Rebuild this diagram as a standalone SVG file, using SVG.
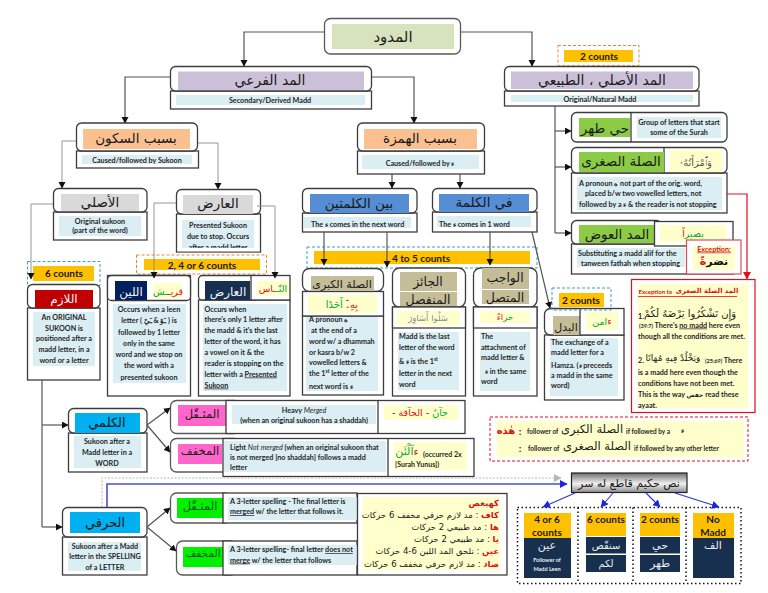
<svg xmlns="http://www.w3.org/2000/svg" width="768" height="593" viewBox="0 0 768 593">
<style>
.b{fill:#fff;stroke:#3c3c3c;stroke-width:1.3}
.g{fill:#fff;stroke:#5a5a5a;stroke-width:1.3}
.root{fill:#d7e3bc}.pur{fill:#ccc0d9}.lb{fill:#daeef3}.org{fill:#fac08f}.gry{fill:#d9d9d9}.blu{fill:#558ed5}.gold{fill:#ffc000}.yel{fill:#ffffcc}.tan{fill:#c4bd97}.grn{fill:#8ccb45}.cy{fill:#00b0f0}.pk{fill:#ff66cc}.lime{fill:#00f000}.nv{fill:#17304f}
.ar{font-family:"DejaVu Sans",sans-serif;fill:#1a1a1a;text-anchor:middle;direction:rtl}
.en{font-family:"Lato","Open Sans",sans-serif;font-weight:700;font-size:7.200px;fill:#262626;text-anchor:middle}
.el{font-family:"Lato","Open Sans",sans-serif;font-weight:700;font-size:7.200px;fill:#262626;text-anchor:start}
.ct{font-family:"Lato","Open Sans",sans-serif;font-weight:700;font-size:10px;fill:#1a1a1a;text-anchor:middle}
.dash{fill:none;stroke-width:1;stroke-dasharray:3 2}
.c{fill:none;stroke:#555;stroke-width:1.2}
.t{fill:none;stroke:#8a8a8a;stroke-width:.9}
.bl{fill:none;stroke:#2a35d8;stroke-width:1.1}
</style>
<defs>
<marker id="a" markerWidth="8" markerHeight="8" refX="6" refY="3.500" orient="auto" markerUnits="userSpaceOnUse"><path d="M0,0L6.500,3.500L0,7z" fill="#111"/></marker>
<marker id="ar" markerWidth="9" markerHeight="9" refX="7" refY="4" orient="auto" markerUnits="userSpaceOnUse"><path d="M0,0L7.500,4L0,8z" fill="#e0101a"/></marker>
<marker id="ab" markerWidth="9" markerHeight="9" refX="7" refY="4" orient="auto" markerUnits="userSpaceOnUse"><path d="M0,0L7.500,4L0,8z" fill="#1a26e0"/></marker>
<marker id="ag" markerWidth="9" markerHeight="9" refX="7" refY="4" orient="auto" markerUnits="userSpaceOnUse"><path d="M0,0L7.500,4L0,8z" fill="#b8b8b8"/></marker>
<linearGradient id="gr" x1="0" y1="0" x2="0" y2="1"><stop offset="0" stop-color="#6e6e6e"/><stop offset=".55" stop-color="#f2f2f2"/><stop offset="1" stop-color="#8a8a8a"/></linearGradient>
</defs>

<g id="root"><rect class="g" x="324.500" y="18.500" width="136" height="35.500" rx="6"/><rect class="root" x="332" y="24" width="122" height="25"/><text class="ar" x="393" y="42" font-size="15">المدود</text></g>

<g id="madd-farei"><rect class="b" x="170.500" y="91" width="201" height="18"/><rect class="b" x="170.500" y="66.500" width="201" height="24.500" rx="5"/><rect class="pur" x="178" y="71.500" width="186" height="18.500"/><rect class="lb" x="176" y="95" width="189" height="10"/><text class="ar" x="270" y="85" font-size="14">المد الفرعي</text><text class="en" x="270" y="102.500">Secondary/Derived  Madd</text></g>

<g id="madd-asli"><rect class="b" x="504.500" y="91" width="194.500" height="15"/><rect class="b" x="504.500" y="66.500" width="194.500" height="24.500" rx="5"/><rect class="pur" x="511" y="71.500" width="182" height="17.500"/><rect class="lb" x="511" y="95" width="182" height="7"/><text class="ar" x="602" y="85" font-size="14">المد الأصلي ، الطبيعي</text><text class="en" x="600" y="101.500">Original/Natural Madd</text></g>
<g id="two-counts-top"><rect class="dash" x="558" y="45.500" width="81" height="20" stroke="#e6873c"/><rect class="gold" x="564" y="50" width="69" height="12"/><text class="ct" x="599" y="59.500">2 counts</text></g>

<g id="sabab-sukoon"><rect class="b" x="76.500" y="151" width="122" height="17"/><rect class="b" x="76.500" y="123" width="121" height="28" rx="5"/><rect class="org" x="83" y="129" width="107" height="20"/><rect class="lb" x="82" y="155" width="110" height="9"/><text class="ar" x="136" y="143" font-size="13.500">بسبب السكون</text><text class="en" x="137" y="162.500">Caused/followed by Sukoon</text></g>

<g id="sabab-hamza"><rect class="b" x="357.500" y="151" width="127" height="23"/><rect class="b" x="357.500" y="123" width="127" height="28" rx="5"/><rect class="org" x="364" y="129" width="113" height="20"/><rect class="lb" x="362" y="155" width="117" height="14"/><text class="ar" x="420" y="143" font-size="13.500">بسبب الهمزة</text><text class="en" x="420" y="166">Caused/followed by ء</text></g>

<g id="asli"><rect class="b" x="53.500" y="212" width="93.500" height="28"/><rect class="b" x="53.500" y="188.500" width="93.500" height="23.500" rx="5"/><rect class="gry" x="61" y="194" width="78" height="17"/><rect class="lb" x="59" y="216" width="82" height="20"/><text class="ar" x="100" y="207" font-size="13.500">الأصلي</text><text class="en" x="100" y="224">Original sukoon</text><text class="en" x="100" y="233">(part of the word)</text></g>

<g id="arid"><rect class="b" x="176.500" y="214" width="84" height="38"/><rect class="b" x="176.500" y="189.500" width="84" height="24.500" rx="5"/><rect class="gry" x="183" y="195" width="70" height="19"/><rect class="lb" x="182" y="220" width="72" height="28"/><text class="ar" x="218" y="208" font-size="13.500">العارض</text><text class="en" x="218" y="227.500">Presented Sukoon</text><text class="en" x="218" y="238.500">due to stop. Occurs</text><text class="en" x="218" y="249.500">after a madd letter</text><rect x="177.500" y="248" width="82" height="3.300" fill="#fff"/></g>

<g id="six-counts"><rect class="dash" x="27.500" y="261.500" width="72.500" height="24" stroke="#3f9cc0"/><rect class="gold" x="33" y="266" width="61" height="15"/><text class="ct" x="64" y="277">6 counts</text></g>
<g id="counts-246"><rect class="dash" x="136.500" y="255" width="130" height="19" stroke="#e6873c"/><rect class="gold" x="144" y="259" width="116" height="11"/><text class="ct" x="202" y="268.500">2, 4 or 6 counts</text></g>
<g id="counts-45"><rect class="dash" x="307" y="247" width="230" height="21" stroke="#3f9cc0"/><rect class="gold" x="314" y="251" width="216" height="13"/><text class="ct" x="421" y="261.500">4 to 5 counts</text></g>

<g id="lazim"><rect class="b" x="27.500" y="308" width="72.500" height="72"/><rect class="b" x="27.500" y="284.500" width="72.500" height="23.500" rx="5"/><rect x="35" y="290" width="58" height="18" fill="#c00000"/><text class="ar" x="64" y="303" font-size="12" style="fill:#f4f4f4">اللازم</text><rect class="lb" x="33" y="312" width="62" height="54"/><text class="en" x="64" y="319.500">An  ORIGINAL</text><text class="en" x="64" y="330.500">SUKOON is</text><text class="en" x="64" y="341">positioned after a</text><text class="en" x="64" y="352">madd letter, in a</text><text class="en" x="64" y="363">word or a letter</text></g>

<g id="leen"><rect class="b" x="107.500" y="275.500" width="83" height="120.500"/><rect class="b" x="107.500" y="275.500" width="83" height="25" rx="4"/><rect x="115" y="281" width="32" height="19" fill="#002060"/><rect class="yel" x="154" y="283" width="28" height="15"/><text class="ar" x="131" y="296" font-size="12" style="fill:#f2f2f2">اللين</text><text class="ar" x="168" y="295" font-size="9.500"><tspan fill="#e0101a">قريـ</tspan><tspan fill="#00a63c">ـش</tspan></text><rect class="lb" x="113" y="304" width="73" height="79"/><text class="en" x="149" y="311.500">Occurs when a leen</text><text class="en" x="149" y="323">letter (  ـَوْ &amp; ـَيْ  )  is</text><text class="en" x="149" y="335">followed by 1 letter</text><text class="en" x="149" y="346">only in the same</text><text class="en" x="149" y="357">word and we stop on</text><text class="en" x="149" y="368">the word with a</text><text class="en" x="149" y="380">presented sukoon</text></g>

<g id="arid-2"><rect class="b" x="198.500" y="300" width="91.500" height="96"/><rect class="b" x="198.500" y="275.500" width="60" height="24.500" rx="4"/><rect x="205" y="281" width="45" height="19" fill="#17304f"/><text class="ar" x="228" y="296" font-size="12" style="fill:#f2f2f2">العارض</text><rect class="b" x="251" y="275.500" width="39" height="24.500"/><rect class="yel" x="257" y="281" width="32" height="15"/><text class="ar" x="273" y="292" font-size="9.500"><tspan fill="#00a63c">النّـ</tspan><tspan fill="#e0101a">ـاس</tspan></text><rect class="lb" x="203" y="304" width="84" height="87"/><text class="el" x="204.500" y="311.500">Occurs when</text><text class="el" x="204.500" y="322">there's only 1 letter after</text><text class="el" x="204.500" y="333">the madd &amp; it's the last</text><text class="el" x="204.500" y="344">letter of the word,  it has</text><text class="el" x="204.500" y="355">a vowel on it &amp; the</text><text class="el" x="204.500" y="366">reader is stopping on the</text><text class="el" x="204.500" y="376.500">letter with a  <tspan text-decoration="underline">Presented</tspan></text><text class="el" x="204.500" y="387.500" text-decoration="underline">Sukoon</text></g>

<g id="bayn"><rect class="b" x="302.500" y="213" width="114.500" height="19"/><rect class="b" x="302.500" y="188.500" width="114.500" height="24.500" rx="5"/><rect class="blu" x="310" y="194" width="99" height="19"/><rect class="lb" x="304" y="217" width="107" height="11"/><text class="ar" x="359" y="208" font-size="13.500">بين الكلمتين</text><text class="el" x="311" y="227">The  ء  comes in the next word</text></g>

<g id="fi-kalima"><rect class="b" x="432.500" y="212" width="104.500" height="20"/><rect class="b" x="432.500" y="188.500" width="104.500" height="23.500" rx="5"/><rect class="blu" x="439" y="194" width="90" height="18"/><rect class="lb" x="437" y="216" width="94" height="11"/><text class="ar" x="484" y="207" font-size="13.500">في الكلمة</text><text class="el" x="439" y="227">The  ء  comes in 1 word</text></g>

<g id="sila-kubra"><rect class="b" x="302.500" y="316" width="81" height="79"/><rect class="b" x="302.500" y="268.500" width="81" height="23" rx="7"/><rect class="b" x="302.500" y="291.500" width="81" height="24.500"/><rect class="tan" x="311" y="276" width="63" height="15"/><rect class="yel" x="308" y="295" width="69" height="18"/><text class="ar" x="342" y="288" font-size="11">الصلة الكبرى</text><text class="ar" x="342" y="308" font-size="10"><tspan fill="#e0101a">بِهِۦٓ </tspan><tspan fill="#00a63c">أَحَدًا</tspan></text><rect class="lb" x="306" y="317" width="72" height="74"/><text class="el" x="309" y="321.500">A pronoun ه</text><text class="el" x="311" y="333">at  the end of a</text><text class="el" x="309" y="344">word w/ a dhammah</text><text class="el" x="309" y="354.500">or kasra b/w  2</text><text class="el" x="309" y="365">vowelled letters  &amp;</text><text class="el" x="309" y="376">the 1<tspan font-size="5" dy="-3">st</tspan><tspan dy="3"> letter of the</tspan></text><text class="el" x="309" y="389">next word is ء</text></g>

<g id="jaiz"><rect class="b" x="392.500" y="307" width="73" height="89"/><rect class="b" x="392.500" y="268" width="73" height="39" rx="7"/><rect class="tan" x="400" y="272" width="57" height="19"/><rect class="tan" x="400" y="292" width="57" height="14"/><text class="ar" x="428" y="286" font-size="12.500">الجائز</text><text class="ar" x="428" y="304" font-size="12.500">المنفصل</text><rect class="b" x="392.500" y="307" width="73" height="21"/><rect class="yel" x="397" y="311" width="63" height="14"/><text class="ar" x="428" y="321" font-size="8.500" style="fill:#8a8aa0">سَلُوا أَسَاوِرَ</text><rect class="lb" x="398" y="332" width="61" height="58"/><text class="el" x="399" y="339">Madd is the last</text><text class="el" x="399" y="350">letter of the word</text><text class="el" x="399" y="364">&amp;  ء  is the 1<tspan font-size="5" dy="-3">st</tspan></text><text class="el" x="399" y="376">letter in the next</text><text class="el" x="399" y="387">word</text></g>

<g id="wajib"><rect class="b" x="473.500" y="307" width="63.500" height="89"/><rect class="b" x="473.500" y="268" width="63.500" height="39" rx="7"/><rect class="tan" x="482" y="268" width="47" height="21"/><rect class="tan" x="482" y="290" width="47" height="14"/><text class="ar" x="505" y="282" font-size="12.500">الواجب</text><text class="ar" x="505" y="302" font-size="12.500">المتصل</text><rect class="b" x="473.500" y="307" width="63.500" height="21"/><rect class="yel" x="480" y="311" width="50" height="12"/><text class="ar" x="505" y="320" font-size="8.500"><tspan fill="#00a63c">حر</tspan><tspan fill="#e0101a">اءً</tspan></text><rect class="lb" x="480" y="332" width="50" height="59"/><text class="el" x="481" y="339">The</text><text class="el" x="481" y="350">attachment of</text><text class="el" x="481" y="359.500">madd letter &amp;</text><text class="el" x="485" y="374">ء  in the same</text><text class="el" x="481" y="384">word</text></g>

<g id="badal"><rect class="b" x="544.500" y="335" width="79.500" height="65"/><rect class="b" x="544.500" y="308.500" width="40" height="26.500" rx="6"/><rect class="tan" x="553" y="316" width="27" height="19"/><text class="ar" x="566" y="331" font-size="11">البدل</text><rect class="b" x="580" y="308.500" width="44" height="26.500"/><rect class="yel" x="586" y="312" width="32" height="18"/><text class="ar" x="602" y="325" font-size="9.500"><tspan fill="#e0101a">ء</tspan><tspan fill="#00a63c">امن</tspan></text><rect class="lb" x="550" y="338" width="68" height="58"/><text class="el" x="551" y="345">The  exchange of a</text><text class="el" x="551" y="354.500">madd letter for a</text><text class="el" x="551" y="368">Hamza. (ء preceeds</text><text class="el" x="551" y="378">a madd in the same</text><text class="el" x="551" y="387.500">word)</text></g>
<g id="two-counts-badal"><rect class="dash" x="552" y="288" width="59" height="22" stroke="#3f9cc0"/><rect class="gold" x="559" y="293" width="45" height="14"/><text class="ct" x="581" y="303.500">2 counts</text></g>

<g id="hay-tuhr"><rect class="b" x="571.500" y="112.500" width="155.500" height="29.500" rx="5"/><path d="M631,112.500V142" class="b"/><rect class="grn" x="579" y="118" width="51" height="19"/><rect class="lb" x="637" y="117" width="84" height="21"/><text class="ar" x="605" y="133" font-size="13.500">حي طهر</text><text class="en" x="679" y="124.500">Group of letters that start</text><text class="en" x="679" y="134.500">some of the Surah</text></g>

<g id="sila-sughra"><rect class="b" x="571.500" y="173" width="155.500" height="40"/><rect class="b" x="571.500" y="147.500" width="155.500" height="25.500" rx="5"/><path d="M664,147.500V173" class="b"/><rect class="grn" x="579" y="152" width="85" height="20"/><rect class="yel" x="670" y="150" width="52" height="22"/><text class="ar" x="621" y="166" font-size="13.500">الصلة الصغرى</text><text class="ar" x="696" y="166" font-size="10" style="fill:#555">وَٱمْرَأَتُهُۥ</text><rect class="lb" x="577" y="177" width="145" height="33"/><text class="el" x="579" y="185.500">A pronoun  ه  not part of the orig. word,</text><text class="el" x="585" y="196">placed  b/w  two vowelled letters, not</text><text class="el" x="579" y="206.500">followed by a  ء  &amp; the reader is not stopping</text></g>

<g id="awad"><rect class="b" x="571.500" y="244" width="162" height="30"/><rect class="b" x="571.500" y="220.500" width="90" height="23.500" rx="5"/><rect class="grn" x="579" y="225" width="76" height="18"/><text class="ar" x="617" y="239" font-size="13.500">المد العوض</text><rect class="b" x="654.500" y="221.500" width="78.500" height="24.500"/><rect class="yel" x="660" y="225" width="66" height="17"/><text class="ar" x="693" y="237" font-size="9.500"><tspan fill="#00a63c">بصير</tspan><tspan fill="#e0101a">اً</tspan></text><rect class="lb" x="577" y="248" width="108" height="19"/><text class="el" x="578" y="255.500">Substituting a madd alif for the</text><text class="el" x="581" y="265.500">tanween fathah when stopping</text></g>

<g id="exception-nadra"><rect x="686.500" y="240" width="54.500" height="34" fill="#fff" stroke="#e04a55" stroke-width="1.200"/><rect class="yel" x="693" y="246" width="42" height="24"/><text class="en" x="714" y="251.500" style="fill:#e0101a" text-decoration="underline">Exception:</text><text class="ar" x="714" y="265" font-size="11" font-weight="700"><tspan fill="#111">نضر</tspan><tspan fill="#e0101a">ةً</tspan></text></g>

<g id="exception-sughra"><rect x="631.500" y="279.500" width="123.500" height="133" fill="#fff" stroke="#e0101a" stroke-width="1.200"/><rect class="yel" x="638" y="284" width="110" height="124"/>
<text class="el" x="638.500" y="293.500" style="fill:#e0101a;font-size:6px">Exception to</text><text class="ar" x="707" y="293" font-size="6.800" style="fill:#e0101a;font-weight:700">المد الصلة الصغرى</text><path d="M638,296.500H737" stroke="#e0101a" stroke-width=".8"/>
<text class="el" x="638" y="319">1.</text><text class="ar" x="690" y="317" font-size="10">وَإِن تَشْكُرُوا يَرْضَهُ لَكُمْ</text>
<text class="el" x="639" y="327.500"><tspan font-size="5.500">(39:7)</tspan> There's <tspan text-decoration="underline">no madd</tspan> here even</text>
<text class="el" x="638" y="339">though all the conditions are met.</text>
<text class="el" x="638" y="363">2.</text><text class="ar" x="673" y="361" font-size="9">وَيَخْلُدْ فِيهِ مُهَانًا</text><text class="el" x="705" y="363"><tspan font-size="5.500">(25:69)</tspan> There</text>
<text class="el" x="638" y="375">is a madd here even though the</text>
<text class="el" x="638" y="385.500">conditions  have not been met.</text>
<text class="el" x="638" y="397">This is the way <tspan font-family="DejaVu Sans" font-size="6">حفص</tspan> read these</text>
<text class="el" x="638" y="408">ayaat.</text></g>

<g id="kalimi"><rect class="b" x="68.500" y="433" width="78.500" height="39"/><rect class="b" x="68.500" y="408.500" width="78.500" height="24.500" rx="5"/><rect class="cy" x="75" y="413" width="65" height="20"/><text class="ar" x="107" y="427" font-size="13">الكلمي</text><rect class="lb" x="74" y="436" width="67" height="32"/><text class="en" x="107" y="443.500">Sukoon after a</text><text class="en" x="107" y="454.500">Madd letter in a</text><text class="en" x="107" y="465.500">WORD</text></g>

<g id="muthaqqal-pink"><rect class="g" x="170.500" y="400.500" width="70" height="33" rx="6"/><rect class="pk" x="178" y="405" width="48" height="21"/><text class="ar" x="202" y="418" font-size="11.500">المثـقّل</text><rect class="b" x="226" y="400.500" width="239" height="33"/><path class="b" d="M378,400.500V433.500"/><rect class="lb" x="232" y="405" width="144" height="19"/><text class="en" x="304" y="413">Heavy <tspan font-style="italic" font-weight="400">Merged</tspan></text><text class="en" x="304" y="423">(when an original sukoon has a shaddah)</text><rect class="yel" x="384" y="405" width="74" height="15"/><text class="ar" x="420" y="416" font-size="9.500"><tspan fill="#00a63c">جآنٌ</tspan> - <tspan fill="#e0101a">الحآقة</tspan> -</text></g>

<g id="mukhaffaf-pink"><rect class="g" x="170.500" y="438.500" width="70" height="33.500" rx="6"/><rect class="pk" x="178" y="444" width="44" height="20"/><text class="ar" x="200" y="455" font-size="11.500">المخفف</text><rect class="b" x="223" y="438.500" width="251" height="38"/><path class="b" d="M388,438.500V476.500"/><rect class="lb" x="224" y="441" width="162" height="31"/><text class="el" x="230" y="450">Light <tspan font-style="italic" font-weight="400">Not merged</tspan>  (when an original sukoon that</text><text class="el" x="230" y="460">is not merged   [no shaddah]  follows a madd</text><text class="el" x="230" y="470">letter</text><rect class="yel" x="394" y="442" width="73" height="28"/><text class="ar" x="407" y="455" font-size="11"><tspan fill="#e0101a">ء</tspan><tspan fill="#00a63c">آلْئَن</tspan></text><text class="el" x="423" y="457" style="font-size:7px">(occurred  2x</text><text class="el" x="395" y="467" style="font-size:7px">[Surah  Yunus])</text></g>

<g id="harfi"><rect class="b" x="62.500" y="537" width="84.500" height="38"/><rect class="b" x="62.500" y="507.500" width="84.500" height="29.500" rx="5"/><rect class="cy" x="70" y="512" width="70" height="21"/><text class="ar" x="105" y="527" font-size="13">الحرفي</text><rect class="lb" x="68" y="542" width="73" height="29"/><text class="en" x="105" y="548.500">Sukoon after a Madd</text><text class="en" x="105" y="559">letter in the SPELLING</text><text class="en" x="105" y="570">of a LETTER</text></g>

<g id="muthaqqal-green"><rect class="g" x="170.500" y="493" width="60" height="30" rx="6"/><rect class="lime" x="177" y="498" width="46" height="20"/><text class="ar" x="200" y="510" font-size="11.500" style="fill:#0b5a1a">المثـقّل</text><rect class="b" x="223" y="493" width="134" height="30"/><rect class="lb" x="228" y="497" width="129" height="23"/><text class="el" x="230" y="503.500">A 3-letter spelling - The final letter is</text><text class="el" x="230" y="514"><tspan text-decoration="underline">merged</tspan> w/ the  letter that follows it.</text></g>

<g id="mukhaffaf-green"><rect class="g" x="176.500" y="541" width="60" height="34" rx="6"/><rect class="lime" x="183" y="547" width="40" height="20"/><text class="ar" x="203" y="557" font-size="10.500" style="fill:#0b5a1a">المخفف</text><rect class="b" x="223" y="541" width="134" height="34"/><rect class="lb" x="228" y="545" width="129" height="20"/><text class="el" x="230" y="552">A 3-letter spelling- final letter <tspan text-decoration="underline">does not</tspan></text><text class="el" x="230" y="562.500"><tspan text-decoration="underline">merge</tspan> w/ the letter that follows</text></g>

<g id="kaf-ha-ya"><rect class="b" x="357.500" y="493.500" width="149.500" height="81.500"/><rect class="yel" x="363" y="497" width="137" height="73"/>
<g font-size="8.500"><text class="ar" x="499" y="506" style="text-anchor:start;fill:#e0101a;font-weight:700">كهيعص</text>
<text class="ar" x="499" y="518" style="text-anchor:start"><tspan fill="#e0101a" font-weight="700">كاف</tspan> : مد لازم حرفي مخفف 6 حركات</text>
<text class="ar" x="499" y="530" style="text-anchor:start"><tspan fill="#e0101a" font-weight="700">ها</tspan> : مد طبيعي 2 حركات</text>
<text class="ar" x="499" y="542" style="text-anchor:start"><tspan fill="#e0101a" font-weight="700">يا</tspan> : مد طبيعي 2 حركات</text>
<text class="ar" x="499" y="554" style="text-anchor:start"><tspan fill="#e0101a" font-weight="700">عين</tspan> : تلحق المد اللين 6-4 حركات</text>
<text class="ar" x="499" y="567" style="text-anchor:start"><tspan fill="#e0101a" font-weight="700">صاد</tspan> : مد لازم حرفي مخفف 6 حركات</text></g></g>

<g id="hadhihi"><rect class="dash" x="490" y="417" width="258" height="44" stroke="#e0101a" stroke-dasharray="4 2 1 2"/><rect class="yel" x="497" y="421" width="247" height="36"/><text class="ar" x="506" y="434" font-size="10" style="fill:#e0101a;font-weight:700">هٰذه</text><text class="en" x="520" y="435" style="font-size:10px">:</text><text class="el" x="527" y="434" style="font-size:6.500px">follower of</text><text class="ar" x="592" y="433" font-size="11.500">الصلة الكبرى</text><text class="el" x="626" y="434" style="font-size:6.500px">if followed by a</text><text class="en" x="682" y="433">ء</text><text class="en" x="520" y="452" style="font-size:10px">:</text><text class="el" x="528" y="451" style="font-size:6.500px">follower of</text><text class="ar" x="597" y="450" font-size="11.500">الصلة الصغرى</text><text class="el" x="634" y="451" style="font-size:6.500px">if followed by any other letter</text></g>

<g id="nass"><rect x="571.500" y="473" width="115.500" height="19.500" fill="url(#gr)" stroke="#222" stroke-width="1.200"/><text class="ar" x="629" y="487" font-size="11">نص حكيم قاطع له سر</text></g>

<g id="cards"><rect x="517.500" y="507.500" width="223.500" height="76" fill="none" stroke="#111" stroke-width="1.500" stroke-dasharray="1.500 2.500"/><path d="M578,507.500V583.500M633,507.500V583.500M686,507.500V583.500" fill="none" stroke="#111" stroke-width="1.500" stroke-dasharray="1.500 2.500"/>
<g id="card-1"><rect class="gold" x="524" y="513" width="47" height="25"/><rect class="nv" x="524" y="538" width="47" height="40"/><text class="ct" x="547" y="522.500">4  or 6</text><text class="ct" x="547" y="535.500">counts</text><text class="ar" x="547" y="549" font-size="11" style="fill:#eee">عين</text><text class="en" x="547" y="562" style="fill:#eee;font-size:5.500px">Follower of</text><text class="en" x="547" y="571" style="fill:#eee;font-size:5.500px">Madd Leen</text></g>
<g id="card-2"><rect class="gold" x="586" y="513" width="40" height="23"/><rect class="nv" x="586" y="537" width="40" height="16.500"/><rect class="nv" x="586" y="555" width="40" height="17"/><text class="ct" x="606" y="522.500">6 counts</text><text class="ar" x="606" y="549" font-size="10" style="fill:#eee">سنقّص</text><text class="ar" x="606" y="567" font-size="10" style="fill:#eee">لكم</text></g>
<g id="card-3"><rect class="gold" x="640" y="513" width="40" height="23"/><rect class="nv" x="640" y="537" width="40" height="16.500"/><rect class="nv" x="640" y="555" width="40" height="17"/><text class="ct" x="660" y="522.500">2 counts</text><text class="ar" x="660" y="549" font-size="11" style="fill:#eee">حي</text><text class="ar" x="660" y="567" font-size="11" style="fill:#eee">طهر</text></g>
<g id="card-4"><rect class="gold" x="693" y="513" width="41" height="25"/><rect class="nv" x="693" y="538" width="41" height="40"/><text class="ct" x="713" y="522.500">No</text><text class="ct" x="713" y="535.500">Madd</text><text class="ar" x="713" y="549" font-size="11" style="fill:#eee">الف</text></g></g>

<g id="connectors">
<path class="c" d="M324,32H244V66" marker-end="url(#a)"/>
<path class="c" d="M461,32H532V66" marker-end="url(#a)"/>
<path class="c" d="M170,77H125V123" marker-end="url(#a)"/>
<path class="c" d="M372,77H414V123" marker-end="url(#a)"/>
<path class="t" d="M76,141H62V188" marker-end="url(#a)"/>
<path class="t" d="M198,143H218V189" marker-end="url(#a)"/>
<path class="c" d="M392,174V188" marker-end="url(#a)"/>
<path class="c" d="M460,174V188" marker-end="url(#a)"/>
<path class="t" d="M53,204H31V279" marker-end="url(#a)"/>
<path class="t" d="M176,203H154V278" marker-end="url(#a)"/>
<path class="t" d="M257,206H275V278" marker-end="url(#a)"/>
<path class="c" d="M324,232V265" marker-end="url(#a)"/>
<path class="c" d="M387,232V267" marker-end="url(#a)"/>
<path class="c" d="M490,232V265" marker-end="url(#a)"/>
<path class="c" d="M532,232L550,308" marker-end="url(#a)"/>
<path class="c" d="M555,106V233"/>
<path class="c" d="M555,131H571" marker-end="url(#a)"/>
<path class="c" d="M555,167H571" marker-end="url(#a)"/>
<path class="c" d="M555,233H571" marker-end="url(#a)"/>
<path d="M727,194H747V279" fill="none" stroke="#e0101a" stroke-width="1.200" marker-end="url(#ar)"/>
<path class="c" d="M42,380V527"/>
<path class="c" d="M42,425H68" marker-end="url(#a)"/>
<path class="c" d="M42,527H62" marker-end="url(#a)"/>
<path class="c" d="M147,425L170,408" marker-end="url(#a)"/>
<path class="c" d="M147,425L170,452" marker-end="url(#a)"/>
<path class="c" d="M147,527L170,508" marker-end="url(#a)"/>
<path class="c" d="M147,527L176,551" marker-end="url(#a)"/>
<path d="M102,507V478H561" fill="none" stroke="#b8b8b8" stroke-width="1" stroke-dasharray="2 1.500" marker-end="url(#ag)"/>
<path d="M107,507V484H567" fill="none" stroke="#4a50c8" stroke-width="1.600" marker-end="url(#ab)"/>
<path class="bl" d="M575,493L543,507" marker-end="url(#ab)"/>
<path class="bl" d="M613,493L601,507" marker-end="url(#ab)"/>
<path class="bl" d="M646,493L660,507" marker-end="url(#ab)"/>
<path class="bl" d="M675,493L719,507" marker-end="url(#ab)"/>
</g>
</svg>
